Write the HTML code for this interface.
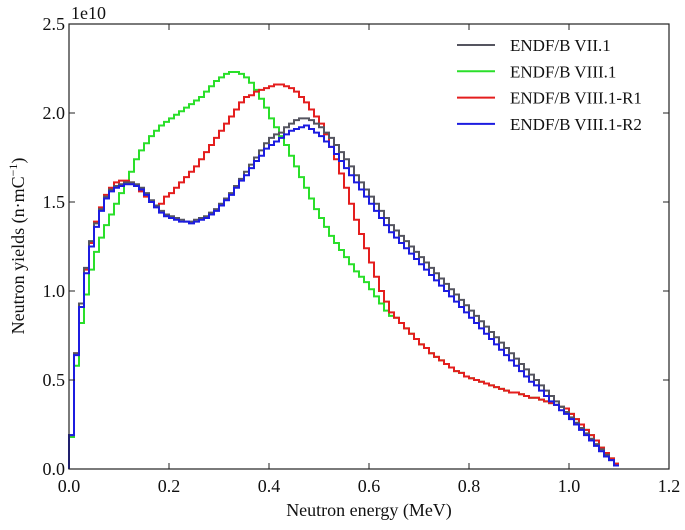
<!DOCTYPE html>
<html><head><meta charset="utf-8"><style>
body{margin:0;background:#fff}
svg text{font-family:"Liberation Serif",serif;fill:#111}
</style></head><body>
<svg id="chart" width="685" height="525" viewBox="0 0 685 525" xmlns="http://www.w3.org/2000/svg">
<g id="marks"></g>
<g id="axes"></g>
<text x="71" y="19" font-size="18">1e10</text>
<text x="369" y="516" font-size="18" text-anchor="middle">Neutron energy (MeV)</text>
<text transform="translate(24,246) rotate(-90)" font-size="18" text-anchor="middle">Neutron yields (n·mC<tspan dy="-7" font-size="12">−1</tspan><tspan dy="7">)</tspan></text>
<g id="legend"></g>
</svg>
<script>
const seriesNames = ["ENDF/B VII.1","ENDF/B VIII.1","ENDF/B VIII.1-R1","ENDF/B VIII.1-R2"];
const seriesColors = ["#555560","#2adf2a","#e41e1e","#1c1ce0"];
const binWidth = 0.01;
const xTicks = [0,0.2,0.4,0.6,0.8,1.0,1.2];
const xTickLabels = ["0.0","0.2","0.4","0.6","0.8","1.0","1.2"];
const yTicks = [0,0.5,1.0,1.5,2.0,2.5];
const yTickLabels = ["0.0","0.5","1.0","1.5","2.0","2.5"];
const grayVals = [0.19,0.65,0.93,1.13,1.28,1.38,1.46,1.53,1.57,1.59,
1.60,1.61,1.61,1.60,1.58,1.55,1.51,1.48,1.45,1.43,
1.42,1.41,1.40,1.39,1.39,1.40,1.41,1.42,1.44,1.46,
1.49,1.52,1.55,1.59,1.63,1.67,1.71,1.75,1.79,1.83,
1.86,1.88,1.89,1.92,1.94,1.96,1.97,1.97,1.96,1.94,
1.92,1.89,1.86,1.82,1.78,1.74,1.70,1.65,1.61,1.57,
1.53,1.49,1.45,1.41,1.37,1.34,1.31,1.28,1.25,1.22,
1.19,1.16,1.13,1.10,1.07,1.04,1.01,0.98,0.95,0.92,
0.89,0.86,0.83,0.80,0.77,0.74,0.71,0.68,0.65,0.62,
0.59,0.56,0.53,0.50,0.47,0.44,0.41,0.38,0.35,0.32,
0.29,0.26,0.23,0.20,0.17,0.14,0.11,0.08,0.05,0.02];
const greenVals = [0.18,0.58,0.82,0.98,1.12,1.22,1.30,1.37,1.43,1.49,
1.55,1.61,1.67,1.74,1.79,1.83,1.87,1.90,1.93,1.95,
1.97,1.99,2.01,2.03,2.05,2.07,2.09,2.12,2.15,2.18,
2.20,2.22,2.23,2.23,2.22,2.20,2.17,2.13,2.08,2.03,
1.97,1.92,1.87,1.82,1.76,1.70,1.64,1.58,1.52,1.46,
1.41,1.36,1.31,1.27,1.23,1.19,1.15,1.11,1.08,1.05,
1.01,0.97,0.93,0.89,0.86,0.85,0.82,0.79,0.76,0.73,
0.70,0.68,0.65,0.63,0.61,0.59,0.57,0.55,0.54,0.52,
0.51,0.50,0.49,0.48,0.47,0.46,0.45,0.44,0.43,0.43,
0.42,0.41,0.40,0.40,0.39,0.38,0.37,0.36,0.35,0.34,
0.31,0.28,0.25,0.22,0.19,0.16,0.12,0.09,0.06,0.03];
const redVals = [0.19,0.65,0.93,1.12,1.27,1.39,1.47,1.54,1.58,1.61,
1.62,1.62,1.61,1.59,1.56,1.53,1.50,1.48,1.49,1.53,
1.55,1.58,1.61,1.64,1.67,1.70,1.74,1.78,1.82,1.86,
1.90,1.94,1.98,2.02,2.06,2.09,2.10,2.12,2.13,2.14,
2.15,2.16,2.16,2.15,2.14,2.12,2.09,2.06,2.02,1.98,
1.94,1.88,1.81,1.74,1.66,1.58,1.49,1.40,1.32,1.24,
1.16,1.08,1.00,0.94,0.88,0.85,0.82,0.79,0.76,0.73,
0.70,0.68,0.65,0.63,0.61,0.59,0.57,0.55,0.54,0.52,
0.51,0.50,0.49,0.48,0.47,0.46,0.45,0.44,0.43,0.43,
0.42,0.41,0.40,0.40,0.39,0.38,0.37,0.36,0.35,0.34,
0.31,0.28,0.25,0.22,0.19,0.16,0.12,0.09,0.06,0.03];
const blueVals = [0.19,0.64,0.91,1.10,1.25,1.36,1.45,1.52,1.56,1.58,
1.59,1.60,1.60,1.59,1.57,1.54,1.50,1.47,1.44,1.42,
1.41,1.40,1.39,1.39,1.38,1.39,1.40,1.41,1.43,1.45,
1.48,1.51,1.54,1.58,1.62,1.65,1.69,1.73,1.76,1.80,
1.82,1.84,1.86,1.88,1.90,1.91,1.92,1.93,1.91,1.89,
1.87,1.84,1.81,1.77,1.73,1.69,1.65,1.61,1.57,1.53,
1.49,1.45,1.41,1.37,1.33,1.30,1.27,1.24,1.21,1.18,
1.15,1.12,1.09,1.06,1.03,1.00,0.97,0.94,0.91,0.88,
0.85,0.82,0.79,0.76,0.73,0.70,0.67,0.64,0.61,0.58,
0.55,0.52,0.49,0.47,0.44,0.41,0.38,0.36,0.33,0.31,
0.28,0.25,0.22,0.19,0.16,0.13,0.10,0.07,0.05,0.02];
const allSeries = [grayVals,greenVals,redVals,blueVals];

const L=69,R=669,T=24,B=469;
const xs = v => L + v/1.2*(R-L);
const ys = v => B - v/2.5*(B-T);
const NS="http://www.w3.org/2000/svg";
function mk(tag,attrs,parent){const e=document.createElementNS(NS,tag);for(const k in attrs)e.setAttribute(k,attrs[k]);parent.appendChild(e);return e;}

const marks=document.getElementById('marks');
const order=[1,2,0,3];
order.forEach(si=>{
  const vals=allSeries[si];
  let d=`M${xs(0)},${ys(0)}`;
  vals.forEach((v,i)=>{d+=` L${xs(i*binWidth)},${ys(v)} L${xs((i+1)*binWidth)},${ys(v)}`;});
  const p=mk('path',{d:d,fill:'none',stroke:seriesColors[si],'stroke-width':2,'stroke-linejoin':'miter'},marks);
  
  
});

const axes=document.getElementById('axes');
const frame=mk('rect',{x:L,y:T,width:R-L,height:B-T,fill:'none',stroke:'#222','stroke-width':1.2},axes);


xTicks.forEach((t,i)=>{
  const x=xs(t);
  mk('line',{x1:x,x2:x,y1:B,y2:B-6,stroke:'#222'},axes);
  mk('line',{x1:x,x2:x,y1:T,y2:T+6,stroke:'#222'},axes);
  const tx=mk('text',{x:x,y:B+23,'font-size':18,'text-anchor':'middle'},axes);
  tx.textContent=xTickLabels[i];
  
  
});
yTicks.forEach((t,i)=>{
  const y=ys(t);
  mk('line',{x1:L,x2:L+6,y1:y,y2:y,stroke:'#222'},axes);
  mk('line',{x1:R,x2:R-6,y1:y,y2:y,stroke:'#222'},axes);
  const tx=mk('text',{x:L-4,y:y+6,'font-size':18,'text-anchor':'end'},axes);
  tx.textContent=yTickLabels[i];
  
  
});

const leg=document.getElementById('legend');
seriesNames.forEach((n,i)=>{
  const y=45+i*26.3;
  const g=mk('g',{},leg);
  
  
  mk('line',{x1:457,x2:495,y1:y,y2:y,stroke:seriesColors[i],'stroke-width':2},g);
  const t=mk('text',{x:510,y:y+6,'font-size':17},g);
  t.textContent=n;
});
</script>
</body></html>
